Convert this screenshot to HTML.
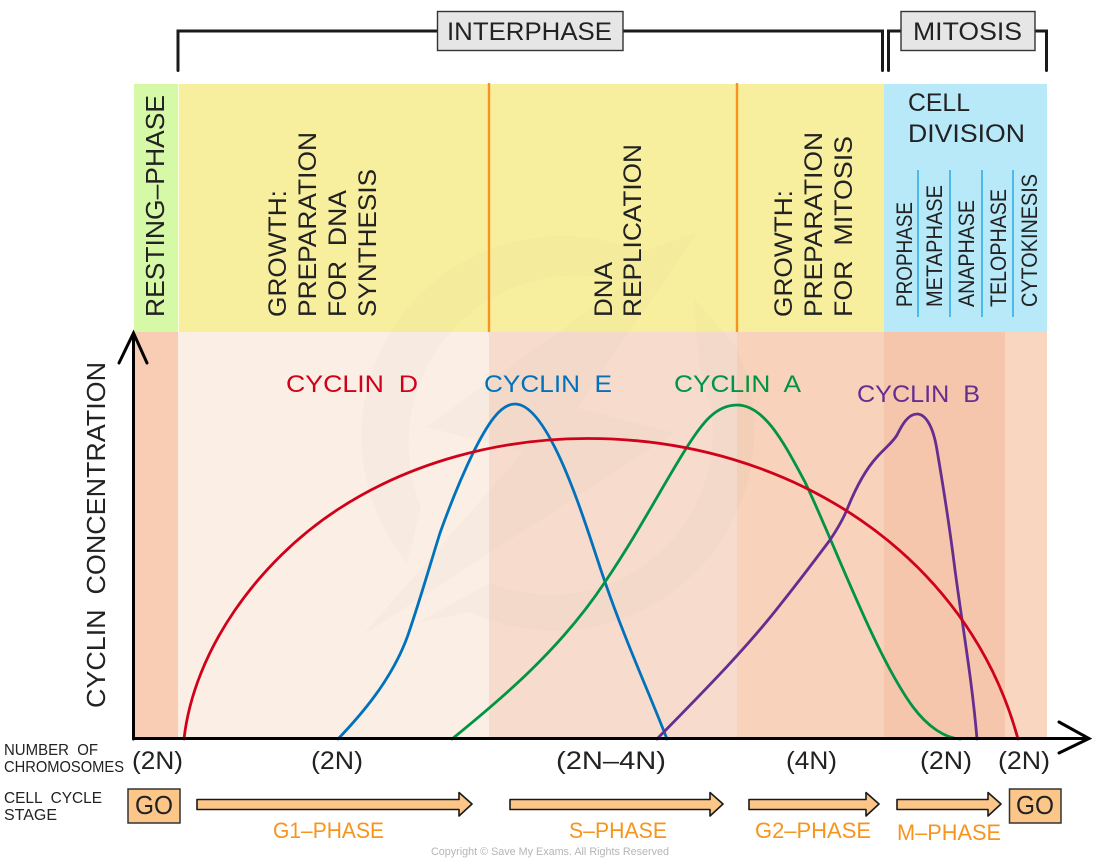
<!DOCTYPE html>
<html><head><meta charset="utf-8"><title>Cyclin concentration</title>
<style>
html,body{margin:0;padding:0;background:#fff;width:1100px;height:860px;overflow:hidden}
svg{display:block}
text{font-family:"Liberation Sans",sans-serif;fill:#222;white-space:pre}
</style></head><body>
<svg width="1100" height="860" viewBox="0 0 1100 860" xmlns="http://www.w3.org/2000/svg">
<rect width="1100" height="860" fill="#fff"/>
<!-- top panels -->
<rect x="134" y="84" width="44" height="248" fill="#d6f9a8"/>
<rect x="178.7" y="84" width="705.3" height="248" fill="#f8ef9e"/>
<rect x="884" y="84" width="163" height="248" fill="#b7e9f9"/>
<!-- lower bands -->
<rect x="134" y="332" width="44" height="407" fill="#f9cdb4"/>
<rect x="178" y="332" width="311" height="407" fill="#fbeee4"/>
<rect x="489" y="332" width="248" height="407" fill="#f7dccd"/>
<rect x="737" y="332" width="147" height="407" fill="#f8d2ba"/>
<rect x="884" y="332" width="121" height="407" fill="#f5c6ab"/>
<rect x="1005" y="332" width="42" height="407" fill="#f8d6bf"/>
<!-- watermark -->
<g fill="#6f7a60" opacity="0.022">
<path d="M407,563 A200,200 0 0 1 640,252 L698,232 L640,288 A168,168 0 0 0 421,507 Z"/>
<polygon points="426,427 698,232 577,408 675,433 363,635 523,452"/>
<path d="M693,297 L735,345 A200,200 0 0 1 470,612 L417,623 L490,583 A162,162 0 0 0 700,370 Z"/>
</g>
<!-- dividers -->
<line x1="489" y1="83" x2="489" y2="332" stroke="#f7941d" stroke-width="2.4"/>
<line x1="737" y1="83" x2="737" y2="332" stroke="#f7941d" stroke-width="2.4"/>
<g stroke="#29abe2" stroke-width="1.5">
<line x1="918" y1="170" x2="918" y2="317"/><line x1="950" y1="170" x2="950" y2="317"/>
<line x1="982" y1="170" x2="982" y2="317"/><line x1="1013" y1="170" x2="1013" y2="317"/>
</g>
<!-- brackets -->
<g fill="none" stroke="#1a1a1a" stroke-width="3" stroke-linecap="round">
<path d="M178,70.5 V31 H437"/><path d="M623,31 H882.5 V70.5"/>
<path d="M888.5,70.5 V31 H901"/><path d="M1035,31 H1046.5 V70.5"/>
</g>
<rect x="437.5" y="11.5" width="185.5" height="39" fill="#e6e6e6" stroke="#333" stroke-width="1.4"/>
<rect x="901" y="11.5" width="134" height="39" fill="#e6e6e6" stroke="#333" stroke-width="1.4"/>
<text x="447" y="40" font-size="25" textLength="165" lengthAdjust="spacingAndGlyphs">INTERPHASE</text>
<text x="913" y="40" font-size="25" textLength="109" lengthAdjust="spacingAndGlyphs">MITOSIS</text>
<!-- vertical labels -->
<g font-size="25">
<text transform="translate(164,317) rotate(-90)" font-size="26" textLength="222" lengthAdjust="spacingAndGlyphs">RESTING–PHASE</text>
<text transform="translate(286,317) rotate(-90)" textLength="127" lengthAdjust="spacingAndGlyphs">GROWTH:</text>
<text transform="translate(316,317) rotate(-90)" textLength="185" lengthAdjust="spacingAndGlyphs">PREPARATION</text>
<text transform="translate(346,317) rotate(-90)" textLength="127" lengthAdjust="spacingAndGlyphs">FOR  DNA</text>
<text transform="translate(376,317) rotate(-90)" textLength="148" lengthAdjust="spacingAndGlyphs">SYNTHESIS</text>
<text transform="translate(612,317) rotate(-90)" textLength="55" lengthAdjust="spacingAndGlyphs">DNA</text>
<text transform="translate(641,317) rotate(-90)" textLength="173" lengthAdjust="spacingAndGlyphs">REPLICATION</text>
<text transform="translate(792,317) rotate(-90)" textLength="127" lengthAdjust="spacingAndGlyphs">GROWTH:</text>
<text transform="translate(822,317) rotate(-90)" textLength="185" lengthAdjust="spacingAndGlyphs">PREPARATION</text>
<text transform="translate(852,317) rotate(-90)" textLength="181" lengthAdjust="spacingAndGlyphs">FOR  MITOSIS</text>
<text x="908" y="111" textLength="62" lengthAdjust="spacingAndGlyphs">CELL</text>
<text x="908" y="142" textLength="117" lengthAdjust="spacingAndGlyphs">DIVISION</text>
</g>
<g font-size="22">
<text transform="translate(912,307) rotate(-90)" textLength="105" lengthAdjust="spacingAndGlyphs">PROPHASE</text>
<text transform="translate(942,307) rotate(-90)" textLength="122" lengthAdjust="spacingAndGlyphs">METAPHASE</text>
<text transform="translate(974,307) rotate(-90)" textLength="107" lengthAdjust="spacingAndGlyphs">ANAPHASE</text>
<text transform="translate(1006,307) rotate(-90)" textLength="118" lengthAdjust="spacingAndGlyphs">TELOPHASE</text>
<text transform="translate(1037,307) rotate(-90)" textLength="133" lengthAdjust="spacingAndGlyphs">CYTOKINESIS</text>
</g>
<text transform="translate(105,708) rotate(-90)" font-size="26" textLength="346" lengthAdjust="spacingAndGlyphs">CYCLIN  CONCENTRATION</text>
<!-- curves -->
<g fill="none" stroke-width="2.8" stroke-linecap="round">
<path stroke="#0072bc" d="M338,739 C360,716 392,680 408,635 C420,600 430,565 440,533 C450,505 460,480 473,453 C487,425 500,404 515,404 C552,404 590,540 605,582 C625,640 650,695 667,739"/>
<path stroke="#009444" d="M452,739 C500,700 560,650 605,582 C640,530 660,490 687,447 C701,425 715,405 737,405 C765,405 785,445 805,482 C835,545 875,655 913,707 C928,727 945,738 960,739"/>
<path stroke="#662d91" d="M657,739 C700,695 745,650 780,605 C800,580 815,560 830,540 C840,525 845,515 848,507 C855,490 865,470 877,457 C885,448 893,442 897,435 C902,425 908,414 917,414 C925,414 933,425 937,450 C943,485 950,530 955,570 C963,630 972,680 977,739"/>
<path stroke="#d0021b" d="M184,739 C194,650 258,562 337,510 C410,462 500,438.5 587,438.5 C790,438 968,555 1018,739"/>
</g>
<!-- curve labels -->
<g font-size="24">
<text x="286" y="392" textLength="132" lengthAdjust="spacingAndGlyphs" style="fill:#d0021b">CYCLIN  D</text>
<text x="484" y="392" textLength="128" lengthAdjust="spacingAndGlyphs" style="fill:#0072bc">CYCLIN  E</text>
<text x="674" y="392" textLength="127" lengthAdjust="spacingAndGlyphs" style="fill:#009444">CYCLIN  A</text>
<text x="857" y="402" textLength="123" lengthAdjust="spacingAndGlyphs" style="fill:#662d91">CYCLIN  B</text>
</g>
<!-- axes -->
<g fill="none" stroke="#000" stroke-width="3" stroke-linecap="round" stroke-linejoin="miter">
<path d="M133.5,739 V334"/><path d="M119,363 L133.5,333 L147,363"/>
<path d="M133.5,738.5 H1088"/><path d="M1059,722 L1089,738.5 L1059,753"/>
</g>
<!-- left labels -->
<g font-size="16">
<text x="4" y="755" textLength="94" lengthAdjust="spacingAndGlyphs">NUMBER  OF</text>
<text x="4" y="772" textLength="120" lengthAdjust="spacingAndGlyphs">CHROMOSOMES</text>
<text x="4" y="803" textLength="98" lengthAdjust="spacingAndGlyphs">CELL  CYCLE</text>
<text x="4" y="820" textLength="53" lengthAdjust="spacingAndGlyphs">STAGE</text>
</g>
<g font-size="25">
<text x="132" y="769" textLength="51" lengthAdjust="spacingAndGlyphs">(2N)</text>
<text x="311" y="769" textLength="52" lengthAdjust="spacingAndGlyphs">(2N)</text>
<text x="556" y="769" textLength="110" lengthAdjust="spacingAndGlyphs">(2N–4N)</text>
<text x="786" y="769" textLength="51" lengthAdjust="spacingAndGlyphs">(4N)</text>
<text x="920" y="769" textLength="52" lengthAdjust="spacingAndGlyphs">(2N)</text>
<text x="998" y="769" textLength="52" lengthAdjust="spacingAndGlyphs">(2N)</text>
</g>
<!-- GO boxes -->
<rect x="128" y="789" width="52" height="34" fill="#fdc689" stroke="#333" stroke-width="1.5"/>
<rect x="1009.5" y="789" width="51.5" height="34" fill="#fdc689" stroke="#333" stroke-width="1.5"/>
<text x="135" y="814" font-size="26" textLength="38" lengthAdjust="spacingAndGlyphs">GO</text>
<text x="1016" y="814" font-size="26" textLength="38" lengthAdjust="spacingAndGlyphs">GO</text>
<!-- stage arrows -->
<g fill="#fdc689" stroke="#1a1a1a" stroke-width="1.6" stroke-linejoin="round">
<path d="M197,799.5 H459 V792.5 L472,804 L459,816 V809.5 H197 Z"/>
<path d="M510,799.5 H710 V792.5 L723,804 L710,816 V809.5 H510 Z"/>
<path d="M749,799.5 H866 V792.5 L879,804 L866,816 V809.5 H749 Z"/>
<path d="M897,799.5 H988 V792.5 L1001,804 L988,816 V809.5 H897 Z"/>
</g>
<g font-size="22">
<text x="273" y="838" textLength="111" lengthAdjust="spacingAndGlyphs" style="fill:#f7941d">G1–PHASE</text>
<text x="569" y="838" textLength="98" lengthAdjust="spacingAndGlyphs" style="fill:#f7941d">S–PHASE</text>
<text x="755" y="838" textLength="116" lengthAdjust="spacingAndGlyphs" style="fill:#f7941d">G2–PHASE</text>
<text x="897" y="840" textLength="104" lengthAdjust="spacingAndGlyphs" style="fill:#f7941d">M–PHASE</text>
</g>
<text x="431" y="855" font-size="11" textLength="238" lengthAdjust="spacingAndGlyphs" style="fill:#b5b5b5">Copyright © Save My Exams. All Rights Reserved</text>
</svg>
</body></html>
